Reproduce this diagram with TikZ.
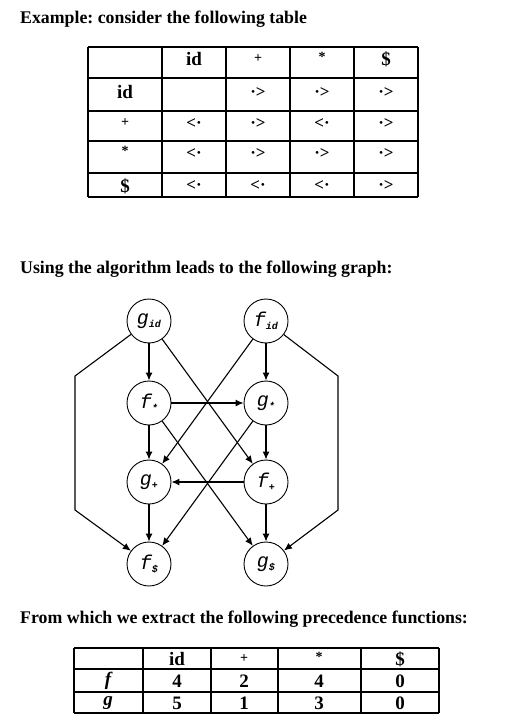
\documentclass[tikz,border=0pt]{standalone}
\usepackage{fontspec}
\setmainfont{Liberation Serif}
\newfontfamily\nodefont{Liberation Mono}
\usetikzlibrary{arrows.meta}
\frenchspacing

\tikzset{
  heading/.style={anchor=base west, inner sep=0pt, font=\bfseries\fontsize{17.8}{20}\selectfont},
  grid/.style={line width=1.6pt},
  hd/.style={inner sep=0pt, font=\bfseries\fontsize{19}{19}\selectfont},
  sym/.style={inner sep=0pt, font=\bfseries\fontsize{14}{14}\selectfont},
  rel/.style={inner sep=0pt, font=\bfseries\fontsize{17}{17}\selectfont},
  num/.style={inner sep=0pt, font=\bfseries\fontsize{19}{19}\selectfont},
  vtx/.style={circle, draw, line width=0.9pt, minimum size=44pt, inner sep=0pt, font=\nodefont\itshape\fontsize{20}{20}\selectfont},
  edge/.style={line width=1.1pt, -{Latex[length=8pt,width=7pt]}}
}
\newcommand{\lbl}[2]{#1\textsubscript{\bfseries\fontsize{10}{10}\selectfont #2}}

\begin{document}
\begin{tikzpicture}[x=1pt, y=-1pt]
    \useasboundingbox (0,0) rectangle (505,727);

    % first table
    \node[heading] (title) at (20,24) {Example: consider the following table};
    \foreach \x in {88,162,226,290,354,418} \draw[grid] (\x,47) -- (\x,197);
    \foreach \y in {47,78,111,141,173,197} \draw[grid] (88,\y) -- (418,\y);
    \node[hd] (h1) at (194,59) {id};
    \node[sym] (h2) at (258,59) {+};
    \node[sym] (h3) at (322,57) {*};
    \node[hd] (h4) at (386,59) {\$};
    \node[hd] (r1) at (125,92) {id};
    \node[sym] (r2) at (125,123) {+};
    \node[sym] (r3) at (125,151) {*};
    \node[hd] (r4) at (125,186) {\$};
    \foreach \y/\row [count=\r] in {93/{ ,·>,·>,·>}, 124/{<·,·>,<·,·>}, 154/{<·,·>,·>,·>}, 186/{<·,<·,<·,·>}}
        \foreach \s [count=\c] in \row \node[rel] (c\r\c) at ({130+64*\c},\y) {\s};

    % graph
    \node[heading] (intro) at (20,273) {Using the algorithm leads to the following graph:};
    \node[vtx] (gid) at (149,321) {\lbl{g}{id}};
    \node[vtx] (fid) at (266,321) {\lbl{f}{id}};
    \node[vtx] (fstar) at (149,403) {\lbl{f}{*}};
    \node[vtx] (gstar) at (266,403) {\lbl{g}{*}};
    \node[vtx] (gplus) at (149,482) {\lbl{g}{+}};
    \node[vtx] (fplus) at (266,482) {\lbl{f}{+}};
    \node[vtx] (fdol) at (149,564) {\lbl{f}{\$}};
    \node[vtx] (gdol) at (266,564) {\lbl{g}{\$}};
    \coordinate (l1) at (75,376);
    \coordinate (l2) at (75,510);
    \coordinate (r1) at (338,376);
    \coordinate (r2) at (338,510);

    \draw[edge] (gid) -- (fstar);
    \draw[edge] (gid) -- (fplus);
    \draw[edge] (fid) -- (gstar);
    \draw[edge] (fid) -- (gplus);
    \draw[edge] (fstar) -- (gstar);
    \draw[edge] (fstar) -- (gplus);
    \draw[edge] (fstar) -- (gdol);
    \draw[edge] (gstar) -- (fplus);
    \draw[edge] (gstar) -- (fdol);
    \draw[edge] (fplus) -- (gplus);
    \draw[edge] (gplus) -- (fdol);
    \draw[edge] (fplus) -- (gdol);
    \draw[edge] (gid) -- (l1) -- (l2) -- (fdol);
    \draw[edge] (fid) -- (r1) -- (r2) -- (gdol);

    % second table
    \node[heading] (outro) at (20,623) {From which we extract the following precedence functions:};
    \foreach \x in {74,143,211,278,361,439} \draw[grid] (\x,648) -- (\x,713);
    \foreach \y in {648,669,692,713} \draw[grid] (74,\y) -- (439,\y);
    \node[hd] (p1) at (177,659) {id};
    \node[sym] (p2) at (244,659) {+};
    \node[sym] (p3) at (319,657) {*};
    \node[hd] (p4) at (400,659) {\$};
    \node[num] (frow) at (108,681) {\itshape f};
    \node[num] (grow) at (108,703) {\itshape g};
    \foreach \x/\a/\b [count=\c] in {177/4/5,244/2/1,319/4/3,400/0/0} {
        \node[num] (f\c) at (\x,681) {\a};
        \node[num] (g\c) at (\x,703) {\b};
    }
\end{tikzpicture}
\end{document}
